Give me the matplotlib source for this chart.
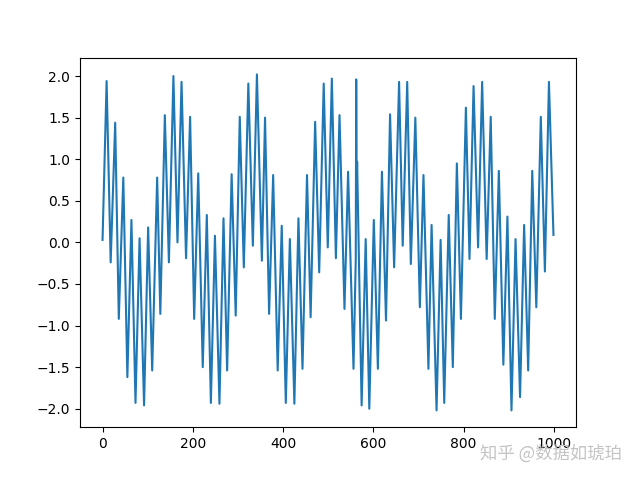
import matplotlib
matplotlib.use("Agg")
import matplotlib.pyplot as plt

# extrema (sample index, value)
samples = [0, 9, 18, 28, 36, 46, 55, 64, 73, 82, 92, 101, 110, 121, 128, 138, 147, 157, 166,
           175, 185, 194, 203, 212, 222, 231, 240, 249, 259, 268, 276, 286, 295, 304, 313, 323, 333, 342,
           353, 360, 369, 378, 388, 397, 406, 415, 425, 434, 443, 453, 461, 471, 480, 490, 499, 508, 517, 525,
           536, 544, 556, 561, 562, 563, 564, 574, 583, 591, 601, 610, 619, 628, 637, 646, 657, 665, 675, 683, 693,
           703, 711, 722, 729, 740, 749, 757, 767, 776, 785, 794, 805, 813, 822, 832, 841, 851, 860, 869, 878,
           888, 897, 906, 915, 925, 934, 943, 952, 961, 971, 980, 989, 999]
values = [0.03, 1.94, -0.24, 1.44, -0.92, 0.78, -1.62, 0.27, -1.93, 0.05, -1.96, 0.18, -1.54, 0.78, -0.86, 1.53, -0.24, 2.00, 0.00,
          1.93, -0.19, 1.51, -0.92, 0.83, -1.50, 0.33, -1.93, 0.08, -1.94, 0.29, -1.54, 0.82, -0.88, 1.51, -0.30, 1.91, -0.04, 2.02,
          -0.22, 1.50, -0.86, 0.81, -1.54, 0.20, -1.93, 0.04, -1.94, 0.29, -1.52, 0.81, -0.90, 1.45, -0.36, 1.91, -0.06, 1.97, -0.19, 1.53,
          -0.80, 0.85, -1.52, -0.20, 1.96, 0.60, 0.97, -1.96, 0.04, -2.00, 0.27, -1.52, 0.85, -0.94, 1.54, -0.30, 1.93, -0.04, 1.93, -0.26, 1.50,
          -0.78, 0.81, -1.52, 0.21, -2.02, 0.03, -1.93, 0.33, -1.50, 0.95, -0.92, 1.62, -0.20, 1.88, -0.06, 1.93, -0.20, 1.51, -0.92, 0.86,
          -1.47, 0.31, -2.02, 0.04, -1.86, 0.21, -1.54, 0.86, -0.78, 1.51, -0.35, 1.93, 0.09]

fig = plt.figure(figsize=(6.4, 4.8), dpi=100)
plt.plot(samples, values)

# watermark
fig.text(0.972, 0.035, "知乎 @数据如琥珀", ha="right", va="bottom", fontsize=12.5,
         color="#c4c4c4", family=["Noto Sans CJK SC", "DejaVu Sans"])

plt.savefig("out.png")
